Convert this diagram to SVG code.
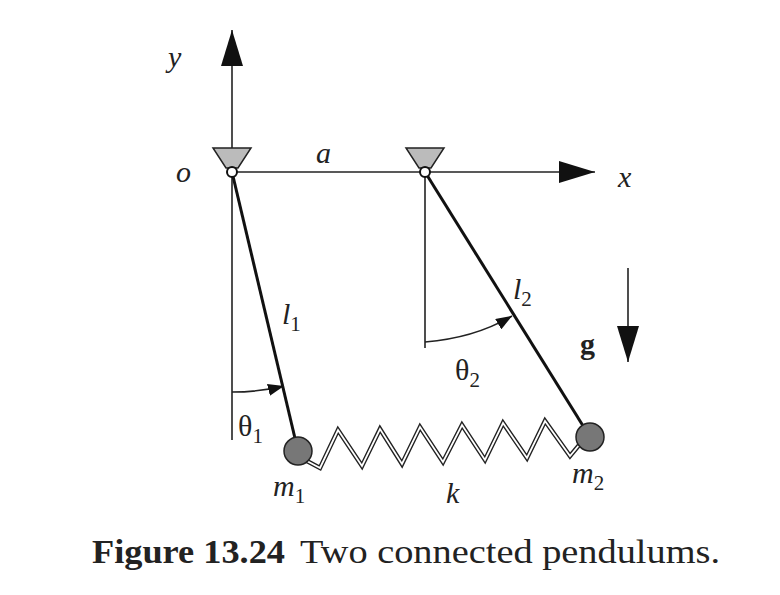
<svg xmlns="http://www.w3.org/2000/svg" width="780" height="595" viewBox="0 0 780 595">
<defs>
<marker id="ax" viewBox="0 0 36 22" refX="36" refY="11" markerWidth="36" markerHeight="22" orient="auto" markerUnits="userSpaceOnUse"><path d="M0,0 L36,11 L0,22 Z" fill="#111"/></marker>
<marker id="sm" viewBox="0 0 16 12" refX="16" refY="6" markerWidth="16" markerHeight="12" orient="auto" markerUnits="userSpaceOnUse"><path d="M0,0 L16,6 L0,12 Z" fill="#111"/></marker>
</defs>
<style>
.t{font-family:"Liberation Serif",serif;fill:#222}
.i{font-style:italic}
.l{stroke:#222;stroke-width:1.6;fill:none}
.rod{stroke:#111;stroke-width:3;fill:none}
</style>
<rect width="780" height="595" fill="#fff"/>
<g id="connectors">
<line class="l" x1="232" y1="172" x2="232" y2="30" marker-end="url(#ax)"/>
<line class="l" x1="232" y1="172" x2="595" y2="172" marker-end="url(#ax)"/>
<line class="l" x1="232" y1="172" x2="232" y2="440"/>
<line class="l" x1="425" y1="172" x2="425" y2="348"/>
<line class="rod" x1="232" y1="172" x2="298" y2="451"/>
<line class="rod" x1="425" y1="172" x2="590" y2="437"/>
<path class="l" d="M232,392 Q260,392 284,386" marker-end="url(#sm)"/>
<path class="l" d="M425,342 Q475,338 512,316" marker-end="url(#sm)"/>
<line class="l" x1="628" y1="268" x2="628" y2="362" marker-end="url(#ax)"/>
<g id="spring">
<path d="M305,460 L320,468 L338,430 L362,466 L380,429 L402,464 L420,427 L443,462 L462,425 L485,460 L503,423 L527,458 L545,421 L570,456 L580,444" fill="none" stroke="#222" stroke-width="4.5" stroke-linejoin="miter"/>
<path d="M305,460 L320,468 L338,430 L362,466 L380,429 L402,464 L420,427 L443,462 L462,425 L485,460 L503,423 L527,458 L545,421 L570,456 L580,444" fill="none" stroke="#fff" stroke-width="1.8" stroke-linejoin="miter"/>
</g>
</g>
<g id="pivot1">
<path d="M213,148 L251,148 L238,168 L226,168 Z" fill="#bbb" stroke="#222" stroke-width="1.5"/>
<circle cx="232" cy="172" r="5" fill="#fff" stroke="#111" stroke-width="2"/>
</g>
<g id="pivot2">
<path d="M406,148 L444,148 L431,168 L419,168 Z" fill="#bbb" stroke="#222" stroke-width="1.5"/>
<circle cx="425" cy="172" r="5" fill="#fff" stroke="#111" stroke-width="2"/>
</g>
<g id="m1"><circle cx="298" cy="451" r="14" fill="#777" stroke="#222" stroke-width="1.5"/></g>
<g id="m2"><circle cx="590" cy="437" r="14" fill="#777" stroke="#222" stroke-width="1.5"/></g>
<g id="labels">
<text class="t i" x="168" y="67" font-size="30">y</text>
<text class="t i" x="176" y="182" font-size="30">o</text>
<text class="t i" x="316" y="163" font-size="30">a</text>
<text class="t i" x="618" y="187" font-size="30">x</text>
<text class="t i" x="282" y="324" font-size="30">l<tspan font-size="21" dy="7" font-style="normal">1</tspan></text>
<text class="t i" x="513" y="299" font-size="30">l<tspan font-size="21" dy="7" font-style="normal">2</tspan></text>
<text class="t" x="238" y="436" font-size="30">θ<tspan font-size="21" dy="7">1</tspan></text>
<text class="t" x="455" y="380" font-size="30">θ<tspan font-size="21" dy="7">2</tspan></text>
<text class="t" x="580" y="354" font-size="30" font-weight="bold">g</text>
<text class="t i" x="273" y="496" font-size="30">m<tspan font-size="21" dy="7" font-style="normal">1</tspan></text>
<text class="t i" x="572" y="483" font-size="30">m<tspan font-size="21" dy="7" font-style="normal">2</tspan></text>
<text class="t i" x="446" y="503" font-size="30">k</text>
<text class="t" x="92" y="563" font-size="33" font-weight="bold" textLength="193" lengthAdjust="spacingAndGlyphs">Figure 13.24</text>
<text class="t" x="300" y="563" font-size="33" textLength="420" lengthAdjust="spacingAndGlyphs">Two connected pendulums.</text>
</g>
</svg>
